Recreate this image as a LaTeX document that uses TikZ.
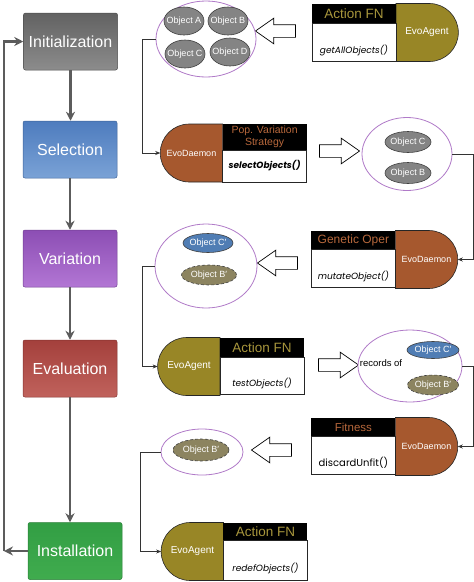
\documentclass[tikz,border=0pt]{standalone}
\usepackage{fontspec}
\setmainfont{Liberation Sans}
\newfontfamily\fnfont{Poppins}
\usetikzlibrary{arrows.meta,positioning,shapes.geometric,shapes.misc,shapes.arrows}

\definecolor{agentcol}{RGB}{152,134,38}
\definecolor{daemoncol}{RGB}{166,88,46}
\definecolor{hdrolive}{RGB}{168,150,60}
\definecolor{hdrbrown}{RGB}{184,104,60}
\definecolor{grpline}{RGB}{176,122,200}
\definecolor{objgray}{RGB}{132,132,132}
\definecolor{objblue}{RGB}{80,125,180}
\definecolor{objolive}{RGB}{140,132,96}
\definecolor{flowgray}{RGB}{92,92,92}
\definecolor{inittop}{RGB}{98,98,98}
\definecolor{initbot}{RGB}{140,140,140}
\definecolor{seltop}{RGB}{78,124,190}
\definecolor{selbot}{RGB}{122,162,214}
\definecolor{vartop}{RGB}{140,78,180}
\definecolor{varbot}{RGB}{178,118,212}
\definecolor{evaltop}{RGB}{164,64,60}
\definecolor{evalbot}{RGB}{192,98,92}
\definecolor{insttop}{RGB}{50,158,68}
\definecolor{instbot}{RGB}{64,172,78}

\begin{document}
\begin{tikzpicture}[
  x=1pt,y=-1pt,
  >=Stealth,
  font=\sffamily,
  stage/.style={rounded corners=2pt,minimum width=94pt,minimum height=57pt,
    text=white,font=\fontsize{16}{18}\selectfont,top color=#1top,bottom color=#1bot,
    draw=#1top!80!black,line width=0.5pt},
  stepflow/.style={line width=2.6pt,flowgray,
    arrows={-Stealth[length=9pt,width=9pt]}},
  capl/.style={rounded rectangle,rounded rectangle east arc=none,
    rounded rectangle west arc=convex,fill=#1,
    draw=black!85,line width=0.6pt,minimum width=69pt,minimum height=58pt,
    outer sep=0pt,text=white},
  capr/.style={capl=#1,rounded rectangle east arc=convex,rounded rectangle west arc=none},
  hdr/.style={fill=black,minimum width=84pt,outer sep=0pt,inner sep=1pt,
    text=#1,align=center},
  body/.style={draw=black!85,fill=white,line width=0.6pt,minimum width=84pt,
    outer sep=0pt,inner sep=1pt,font=\fnfont\itshape\fontsize{9}{10}\selectfont},
  low/.style={text height=23pt,text depth=2pt},
  group/.style={ellipse,draw=grpline,fill=white,line width=0.8pt,inner sep=0pt},
  obj/.style={ellipse,draw=black!75,fill=objgray,text=white,inner sep=0pt,
    line width=0.6pt,font=\fontsize{9}{10}\selectfont,
    execute at begin node={\hbox to 0pt\bgroup\hss},
    execute at end node={\hss\egroup}},
  objc/.style={obj,fill=objblue},
  objb/.style={obj,fill=objolive,densely dashed},
  hollow/.style={single arrow,draw=black,fill=white,line width=0.7pt,
    inner sep=0pt,inner ysep=6pt,minimum height=40pt,
    single arrow head extend=6.5pt,single arrow tip angle=70},
  link/.style={line width=0.8pt,black!80,arrows={-Stealth[length=5pt,width=4pt]}}]

  \useasboundingbox (0,0) rectangle (474,582);

  % ---- stages ----
  \node[stage=init] (init) at (70.5,41.5) {Initialization};
  \node[stage=sel] (sel) at (70,149.5) {Selection};
  \node[stage=var] (var) at (70,258.5) {Variation};
  \node[stage=eval] (eval) at (70,368.5) {Evaluation};
  \node[stage=inst] (inst) at (75,551) {Installation};

  \foreach \a/\b in {init/sel,sel/var,var/eval,eval/inst}
    \draw[stepflow] (\a.south) -- (\a.south |- \b.north);
  \coordinate (ret) at (4,551);
  \draw[stepflow] (inst.west) -- (ret);
  \draw[stepflow] (ret) |- (init.west);

  % ---- row 1: initial objects ----
  \node[capr=agentcol,font=\fontsize{10}{12}\selectfont] (ag1) at (427,32.5) {EvoAgent};
  \node[hdr=hdrolive,anchor=north east,minimum height=20pt,
    font=\fontsize{13.5}{15}\selectfont] (h1) at (ag1.north west) {Action FN};
  \node[body,low,anchor=north,minimum height=38pt] (b1) at (h1.south) {getAllObjects()};
  \node[hollow,shape border rotate=180] (a1) at (280,31) {};
  \node[group,minimum width=100pt,minimum height=76pt] (g1) at (206,39) {};
  \node[obj,minimum width=40pt,minimum height=28pt] (oa) at (184,21) {Object A};
  \node[obj,minimum width=40pt,minimum height=28pt] (ob) at (228,21) {Object B};
  \node[obj,minimum width=40pt,minimum height=28pt] (oc) at (185,54) {Object C};
  \node[obj,minimum width=40pt,minimum height=28pt] (od) at (230,52) {Object D};

  % ---- row 2: selection ----
  \node[capl=daemoncol,font=\fontsize{9}{11}\selectfont] (dm2) at (191.5,153) {EvoDaemon};
  \node[hdr=hdrbrown,anchor=north west,minimum height=26pt,
    font=\fontsize{10.5}{11.5}\selectfont] (h2) at (dm2.north east) {Pop. Variation\\Strategy};
  \node[body,anchor=north,minimum height=32pt,
    font=\fnfont\bfseries\itshape\fontsize{9}{10}\selectfont] (b2) at (h2.south) {selectObjects()};
  \node[hollow] (a2) at (335,151) {};
  \node[group,minimum width=90pt,minimum height=73pt] (g2) at (407,154) {};
  \node[obj,minimum width=46pt,minimum height=21pt] (o2c) at (408,142) {Object C};
  \node[obj,minimum width=46pt,minimum height=21pt] (o2b) at (408,173) {Object B};

  % ---- row 3: variation ----
  \node[capr=daemoncol,font=\fontsize{9}{11}\selectfont] (dm3) at (426.5,259.5) {EvoDaemon};
  \node[hdr=hdrbrown,anchor=north east,minimum height=19pt,
    font=\fontsize{12}{14}\selectfont] (h3) at (dm3.north west) {Genetic Oper};
  \node[body,low,anchor=north,minimum height=38pt] (b3) at (h3.south) {mutateObject()};
  \node[hollow,shape border rotate=180] (a3) at (282,263) {};
  \node[group,minimum width=102pt,minimum height=84pt] (g3) at (206,266) {};
  \node[objc,minimum width=50pt,minimum height=19pt] (o3c) at (208,243) {Object C′};
  \node[objb,minimum width=55pt,minimum height=20pt] (o3b) at (209,275) {Object B′};

  % ---- row 4: evaluation ----
  \node[capl=agentcol,font=\fontsize{10}{12}\selectfont] (ag4) at (189,366.5) {EvoAgent};
  \node[hdr=hdrolive,anchor=north west,minimum height=20pt,
    font=\fontsize{13.5}{15}\selectfont] (h4) at (ag4.north east) {Action FN};
  \node[body,low,anchor=north,minimum height=37pt] (b4) at (h4.south) {testObjects()};
  \node[hollow] (a4) at (334,365) {};
  \node[group,minimum width=104pt,minimum height=72pt] (g4) at (410,366) {};
  \node[font=\fontsize{9.5}{11}\selectfont] (rec) at (381,363) {records of};
  \node[objc,minimum width=52pt,minimum height=17pt] (o4c) at (433,350) {Object C′};
  \node[objb,minimum width=51pt,minimum height=20pt] (o4b) at (433,385) {Object B′};

  % ---- row 5: fitness ----
  \node[capr=daemoncol,font=\fontsize{9}{11}\selectfont] (dm5) at (426.5,446.5) {EvoDaemon};
  \node[hdr=hdrbrown,anchor=north east,minimum height=19pt,
    font=\fontsize{11.5}{13}\selectfont] (h5) at (dm5.north west) {Fitness};
  \node[body,low,anchor=north,minimum height=38pt,
    font=\fnfont\fontsize{10}{11}\selectfont] (b5) at (h5.south) {discardUnfit()};
  \node[hollow,shape border rotate=180] (a5) at (276,450) {};
  \node[group,minimum width=82pt,minimum height=46pt] (g5) at (202,452) {};
  \node[objb,minimum width=56pt,minimum height=22pt] (o5b) at (201,450) {Object B′};

  % ---- row 6: installation ----
  \node[capl=agentcol,font=\fontsize{10}{12}\selectfont] (ag6) at (192.5,551.5) {EvoAgent};
  \node[hdr=hdrolive,anchor=north west,minimum height=18pt,
    font=\fontsize{13.5}{15}\selectfont] (h6) at (ag6.north east) {Action FN};
  \node[body,low,anchor=north,minimum height=40pt] (b6) at (h6.south) {redefObjects()};

  % ---- links between rows ----
  \draw[link] (g1.west) -- ++(-13,0) |- (dm2.west);
  \draw[link] (g2.east) -- ++(21,0) |- (dm3.east);
  \draw[link] (g3.west) -- ++(-12,0) |- (ag4.west);
  \draw[link] (g4.east) -- ++(11,0) |- (dm5.east);
  \draw[link] (g5.west) -- ++(-20,0) |- (ag6.west);
\end{tikzpicture}
\end{document}
